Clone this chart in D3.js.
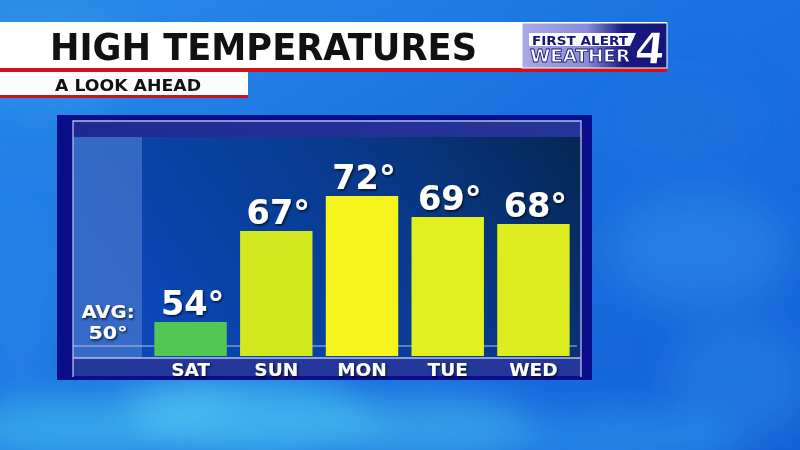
<!DOCTYPE html>
<html><head><meta charset="utf-8">
<script src="https://cdn.jsdelivr.net/npm/d3@7"></script>
<style>html,body{margin:0;padding:0;background:#1666dd;}svg{display:block;}</style>
</head><body>
<svg id="c" width="800" height="450"></svg>
<script>
const title = "HIGH TEMPERATURES";
const subtitle = "A LOOK AHEAD";
const days = ["SAT", "SUN", "MON", "TUE", "WED"];
const highs = [54, 67, 72, 69, 68];
const barColors = ["#52c852", "#d2e81f", "#f5f41c", "#e3f01f", "#dcec1f"];
const avgLabel = ["AVG:", "50°"];
const avgValue = 50;

const svg = d3.select("#c");
const defs = svg.append("defs");
const FONT = "'DejaVu Sans', sans-serif";

// background gradient
const bg = defs.append("linearGradient").attr("id","bg").attr("x1",0).attr("y1",0).attr("x2",1).attr("y2",1);
bg.append("stop").attr("offset","0%").attr("stop-color","#2a8ce8");
bg.append("stop").attr("offset","45%").attr("stop-color","#1a72e2");
bg.append("stop").attr("offset","100%").attr("stop-color","#1660d8");
defs.append("filter").attr("id","blur").attr("x","-50%").attr("y","-50%").attr("width","200%").attr("height","200%")
  .append("feGaussianBlur").attr("stdDeviation",18);
const sh = defs.append("filter").attr("id","sh").attr("x","-20%").attr("y","-20%").attr("width","140%").attr("height","140%");
sh.append("feDropShadow").attr("dx",1.2).attr("dy",1.5).attr("stdDeviation",0.8).attr("flood-color","#000").attr("flood-opacity",0.75);

svg.append("rect").attr("width",800).attr("height",450).attr("fill","url(#bg)");
const clouds = [
  [80,430,120,35,"#3fb6ee",0.75],[260,420,120,40,"#45c0f0",0.8],[430,430,110,35,"#40b4ee",0.7],
  [620,440,120,30,"#2e9ae8",0.6],[180,400,60,25,"#55c8f2",0.5],[700,250,90,60,"#2f8fe6",0.5],
  [740,380,70,60,"#2a88e4",0.5],[60,60,80,50,"#3a9cec",0.5],[680,120,80,50,"#1d6fe0",0.5],
  [20,300,40,90,"#2c8ae6",0.5]
];
svg.append("g").attr("filter","url(#blur)").selectAll("ellipse").data(clouds).join("ellipse")
  .attr("cx",d=>d[0]).attr("cy",d=>d[1]).attr("rx",d=>d[2]).attr("ry",d=>d[3])
  .attr("fill",d=>d[4]).attr("opacity",d=>d[5]);

// title band
svg.append("rect").attr("x",0).attr("y",22).attr("width",667).attr("height",46).attr("fill","#ffffff");
svg.append("rect").attr("x",0).attr("y",68).attr("width",667).attr("height",4).attr("fill","#d0121b");
svg.append("text").attr("x",50).attr("y",60).attr("font-family",FONT).attr("font-weight","bold")
  .attr("font-size",37).attr("fill","#111").attr("textLength",427).attr("lengthAdjust","spacingAndGlyphs").text(title);
svg.append("rect").attr("x",0).attr("y",72).attr("width",248).attr("height",24).attr("fill","#ffffff");
svg.append("rect").attr("x",0).attr("y",95).attr("width",248).attr("height",3).attr("fill","#d0121b");
svg.append("text").attr("x",55).attr("y",91).attr("font-family",FONT).attr("font-weight","bold")
  .attr("font-size",16.5).attr("fill","#111").attr("textLength",146).attr("lengthAdjust","spacingAndGlyphs").text(subtitle);

// logo
const lg = defs.append("linearGradient").attr("id","lg").attr("x1",0).attr("y1",0).attr("x2",1).attr("y2",0);
lg.append("stop").attr("offset","0%").attr("stop-color","#a9a9e6");
lg.append("stop").attr("offset","45%").attr("stop-color","#8a8ad8");
lg.append("stop").attr("offset","70%").attr("stop-color","#1a1a80");
lg.append("stop").attr("offset","100%").attr("stop-color","#15157a");
const logo = svg.append("g");
logo.append("rect").attr("x",522).attr("y",23).attr("width",145).attr("height",45).attr("fill","url(#lg)");
logo.append("rect").attr("x",522).attr("y",23).attr("width",145).attr("height",45).attr("fill","none").attr("stroke","#ffffff").attr("stroke-width",1);
logo.append("path").attr("d","M529,33 L636,33 L630,46 L529,46 Z").attr("fill","#ffffff");
logo.append("text").attr("x",532).attr("y",44.5).attr("font-family",FONT).attr("font-weight","bold")
  .attr("font-size",12.5).attr("fill","#14147a").attr("textLength",96).attr("lengthAdjust","spacingAndGlyphs").text("FIRST ALERT");
logo.append("text").attr("x",530).attr("y",62).attr("font-family",FONT).attr("font-weight","bold")
  .attr("font-size",17).attr("fill","#ffffff").attr("stroke","#14147a").attr("stroke-width",0.8)
  .attr("textLength",100).attr("lengthAdjust","spacingAndGlyphs").text("WEATHER");
logo.append("text").attr("x",634).attr("y",64).attr("font-family",FONT).attr("font-weight","bold")
  .attr("font-size",44).attr("fill","#ffffff").attr("stroke","#14147a").attr("stroke-width",1.5)
  .attr("transform","skewX(-6)").attr("dx",6).text("4");

// chart panel
const x = d3.scaleBand().domain(days).range([147.5, 576.5]).paddingInner(0.155).paddingOuter(0.08);
const y = d3.scaleLinear().domain([49.14, 72]).range([356, 196]);

svg.append("rect").attr("x",57).attr("y",115).attr("width",535).attr("height",265).attr("fill","#0b0e8a");
const pg = defs.append("linearGradient").attr("id","pg").attr("x1",0).attr("y1",0.3).attr("x2",1).attr("y2",0);
pg.append("stop").attr("offset","0%").attr("stop-color","#0b47b6");
pg.append("stop").attr("offset","55%").attr("stop-color","#083a8c");
pg.append("stop").attr("offset","100%").attr("stop-color","#062754");
svg.append("rect").attr("x",73).attr("y",137).attr("width",508).attr("height",221).attr("fill","url(#pg)");
const hg = defs.append("linearGradient").attr("id","hg").attr("x1",0).attr("y1",0).attr("x2",1).attr("y2",0);
hg.append("stop").attr("offset","0%").attr("stop-color","#1c2a92");
hg.append("stop").attr("offset","100%").attr("stop-color","#27359a");
svg.append("rect").attr("x",73).attr("y",121).attr("width",508).attr("height",16).attr("fill","url(#hg)");
svg.append("rect").attr("x",73).attr("y",358).attr("width",508).attr("height",18).attr("fill","#23389a");
svg.append("rect").attr("x",73).attr("y",137).attr("width",69).attr("height",221).attr("fill","#5a86d8").attr("opacity",0.55);
// frame lines
svg.append("path").attr("d","M73,377 L73,121 L581,121 L581,377").attr("fill","none").attr("stroke","#b4bce8").attr("stroke-width",1.3);
svg.append("line").attr("x1",73).attr("x2",581).attr("y1",358).attr("y2",358).attr("stroke","#b4bce8").attr("stroke-width",1.3);
svg.append("line").attr("x1",73).attr("x2",577).attr("y1",y(avgValue)-4).attr("y2",y(avgValue)-4).attr("stroke","#b8c0dc").attr("stroke-width",1.2);

// bars
svg.append("g").selectAll("rect").data(days).join("rect")
  .attr("x",d=>x(d)).attr("width",x.bandwidth())
  .attr("y",(d,i)=>y(highs[i])).attr("height",(d,i)=>y.range()[0]-y(highs[i]))
  .attr("fill",(d,i)=>barColors[i]);

// value labels
svg.append("g").attr("filter","url(#sh)").selectAll("text").data(days).join("text")
  .attr("x",d=>x(d)+x.bandwidth()/2+2).attr("y",(d,i)=>y(highs[i])-7)
  .attr("text-anchor","middle").attr("font-family",FONT).attr("font-weight","bold")
  .attr("font-size",33.5).attr("fill","#ffffff").text((d,i)=>highs[i]+"°");

// day labels
svg.append("g").attr("filter","url(#sh)").selectAll("text").data(days).join("text")
  .attr("x",d=>x(d)+x.bandwidth()/2).attr("y",376)
  .attr("text-anchor","middle").attr("font-family",FONT).attr("font-weight","bold")
  .attr("font-size",18.5).attr("fill","#ffffff").text(d=>d);

// avg label
svg.append("g").attr("filter","url(#sh)").selectAll("text").data(avgLabel).join("text")
  .attr("x",108).attr("y",(d,i)=>318+i*21).attr("text-anchor","middle").attr("font-family",FONT).attr("font-weight","bold")
  .attr("font-size",18).attr("textLength",(d,i)=>i===0?53:39).attr("lengthAdjust","spacingAndGlyphs")
  .attr("fill","#ffffff").text(d=>d);
</script>
</body></html>
